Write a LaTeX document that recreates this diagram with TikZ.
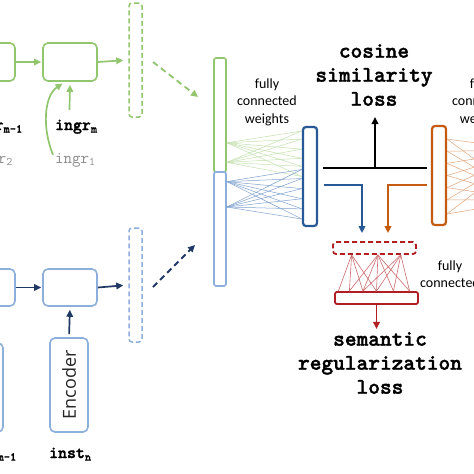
\documentclass[tikz,border=0pt]{standalone}
\usepackage{fontspec}
\setmainfont{Carlito}
\newfontfamily\osansf{Open Sans}
\newfontfamily\lmmonob[FakeBold=1.6]{lmmonolt10-bold.otf}
\usetikzlibrary{arrows.meta,calc}
\definecolor{gr}{RGB}{146,198,110}
\definecolor{lb}{RGB}{140,175,220}
\definecolor{navy}{RGB}{31,56,100}
\definecolor{db}{RGB}{40,88,150}
\definecolor{org}{RGB}{197,90,17}
\definecolor{rd}{RGB}{176,30,35}
\definecolor{gry}{RGB}{140,140,140}
\newcommand\monobold{\lmmonob}
\begin{document}
\begin{tikzpicture}[x=1pt,y=-1pt,
  tip/.style={-{Triangle[length=7pt,width=6.5pt]}},
  gbox/.style={draw=gr,rounded corners=5pt,line width=1.6pt,minimum width=54pt,minimum height=38pt,inner sep=0pt},
  bbox/.style={draw=lb,rounded corners=5pt,line width=1.6pt,minimum width=54pt,minimum height=37pt,inner sep=0pt},
  gdashbar/.style={draw=gr,dash pattern=on 5pt off 3pt,rounded corners=3pt,line width=1.5pt,minimum width=13pt,minimum height=114pt,inner sep=0pt},
  bdashbar/.style={draw=lb,dash pattern=on 5pt off 3pt,rounded corners=3pt,line width=1.5pt,minimum width=13pt,minimum height=114pt,inner sep=0pt},
  bigbar/.style={rounded corners=2pt,line width=1.6pt,minimum width=12pt,minimum height=114pt,inner sep=0pt},
  featbar/.style={rounded corners=3pt,line width=2.2pt,minimum width=14pt,minimum height=99pt,inner sep=0pt},
  garr/.style={tip,draw=gr,line width=1.7pt},
  narr/.style={tip,draw=navy,line width=1.7pt},
  gdarr/.style={tip,draw=gr,line width=1.8pt,dash pattern=on 6pt off 4pt},
  ndarr/.style={tip,draw=navy,line width=1.8pt,dash pattern=on 6pt off 4pt},
  fcg/.style={draw=gr!55,line width=0.5pt},
  fcb/.style={draw=lb!90!navy,line width=0.5pt},
  fco/.style={draw=org!55,line width=0.5pt},
  fcr/.style={draw=rd!65,line width=0.6pt},
  losstxt/.style={font=\monobold\fontsize{22.3}{24}\selectfont,align=center,inner sep=0pt},
  fctxt/.style={font=\fontsize{14}{17.5}\selectfont,align=center,inner sep=0pt},
  subtxt/.style={font=\monobold\fontsize{17}{19}\selectfont,inner sep=0pt},
  greytxt/.style={font=\ttfamily\fontsize{16.5}{19}\selectfont,text=gry,inner sep=0pt}]
\useasboundingbox (0,0) rectangle (474,474);
\fill[white] (0,0) rectangle (474,474);
\clip (0,0) rectangle (474,474);

% ---- green (ingredient) row
\node[gbox] (gl) at (-12,62) {};
\node[gbox] (g2) at (70,62) {};
\node[gdashbar] (gd) at (135.5,60) {};
\draw[garr,shorten >=1pt] (gl.east) -- (g2.west);
\draw[garr,shorten >=5pt] (g2.east) -- (gd.west);

\node[subtxt,anchor=base east] (ingrm1) at (23,130) {ingr\textsubscript{m-1}};
\node[greytxt,anchor=base east] (ingr2) at (13,163) {ingr\textsubscript{2}};
\node[subtxt,anchor=base west] (ingrm) at (55,130) {ingr\textsubscript{m}};
\node[greytxt,anchor=base west] (ingr1) at (55,163) {ingr\textsubscript{1}};
\coordinate (gs) at (69.5,110);
\draw[garr,shorten >=3pt] (gs) -- (g2.south);
\draw[garr,shorten >=3pt] ([xshift=-2pt,yshift=-2pt]ingr1.north west) .. controls (42,128) and (44,96) .. ([xshift=-5pt]g2.south);

% ---- blue (instruction) row
\node[bbox] (bl) at (-12,287.5) {};
\node[bbox] (b2) at (70,287.5) {};
\node[bdashbar] (bd) at (135.5,285) {};
\draw[narr,shorten >=1pt] (bl.east) -- (b2.west);
\draw[narr,shorten >=5pt] (b2.east) -- (bd.west);
\node[bbox,minimum width=38pt,minimum height=94pt] (enc) at (69,385) {};
\node[rotate=90,font=\osansf\fontsize{18}{20}\selectfont,text=black!85,inner sep=0pt] (enctxt) at (enc.center) {Encoder};
\node[bbox,minimum width=46pt,minimum height=89pt] (encl) at (-20,387.5) {};
\draw[narr,shorten <=3pt,shorten >=3pt] (enc.north) -- (b2.south);
\node[subtxt,anchor=base west] (instn) at (49,458) {inst\textsubscript{n}};
\node[subtxt,anchor=base east] (instm1) at (17,458) {inst\textsubscript{m-1}};

% ---- joint embedding bar
\node[bigbar,draw=gr] (gbar) at (220,115) {};
\node[bigbar,draw=lb] (bbar) at (220,229) {};
\coordinate (d1s) at (153,62);
\coordinate (d1e) at (198,97);
\draw[gdarr] (d1s) -- (d1e);
\coordinate (d2s) at (153,287);
\coordinate (d2e) at (195,245);
\draw[ndarr] (d2s) -- (d2e);

% ---- feature bars
\node[featbar,draw=db] (dbar) at (310,176.5) {};
\node[featbar,draw=org] (obar) at (439,175.5) {};

% fully connected (left)
\foreach \s in {0.74,0.91}
  \foreach \t in {0.05,0.13,0.23,0.32,0.40,0.50}
    \draw[fcg] ($(gbar.north east)!\s!(gbar.south east)$) -- ($(dbar.north west)!\t!(dbar.south west)$);
\foreach \s in {0.09,0.31}
  \foreach \t in {0.43,0.52,0.62,0.72,0.82,0.92}
    \draw[fcb] ($(bbar.north east)!\s!(bbar.south east)$) -- ($(dbar.north west)!\t!(dbar.south west)$);
% fully connected (right, off picture)
\coordinate (or1) at (530,150);
\coordinate (or2) at (530,200);
\foreach \t in {0.14,0.26,0.38,0.50,0.62,0.74,0.88}
  {\draw[fco] ($(obar.north east)!\t!(obar.south east)$) -- (or1);
   \draw[fco] ($(obar.north east)!\t!(obar.south east)$) -- (or2);}

\node[fctxt] (fcl) at (267,102) {fully\\connected\\weights};
\node[fctxt] (fcr) at (482,102) {fully\\connected\\weights};

% ---- cosine similarity loss
\coordinate (cj) at (375,168);
\coordinate (cu) at (375,117);
\draw[line width=1.8pt,shorten <=5pt,shorten >=4pt] (dbar.east |- cj) -- (obar.west |- cj);
\draw[tip,line width=1.8pt] (cj) -- (cu);
\node[losstxt] (cos) at (374,75) {cosine\\similarity\\loss};

% ---- semantic regularization branch
\node[draw=rd,dash pattern=on 5pt off 3pt,rounded corners=3pt,line width=1.8pt,minimum width=83pt,minimum height=12pt,inner sep=0pt] (rdash) at (374.5,248) {};
\node[draw=rd,rounded corners=2pt,line width=1.8pt,minimum width=83pt,minimum height=12pt,inner sep=0pt] (rsol) at (376.5,298) {};
\coordinate (blst) at (324,185);
\coordinate (orst) at (427,185);
\draw[tip,draw=db,line width=1.8pt,shorten >=8pt] (blst) -| ([xshift=-12.5pt]rdash.north);
\draw[tip,draw=org,line width=1.8pt,shorten >=8pt] (orst) -| ([xshift=13.5pt]rdash.north);
\foreach \a/\b in {0.23/0.05,0.23/0.18,0.23/0.34,0.23/0.50,
                   0.54/0.18,0.54/0.34,0.54/0.50,0.54/0.70,0.54/0.89,
                   0.81/0.34,0.81/0.50,0.81/0.70,0.81/0.89}
  \draw[fcr] ($(rdash.south west)!\a!(rdash.south east)$) -- ($(rsol.north west)!\b!(rsol.north east)$);
\node[fctxt] (fcb) at (450,274) {fully\\connected};
\node[losstxt] (sem) at (380,363) {semantic\\regularization\\loss};
\draw[tip,draw=rd,line width=1.8pt,shorten >=3pt] (rsol.south) -- (rsol.south |- sem.north);
\end{tikzpicture}
\end{document}
